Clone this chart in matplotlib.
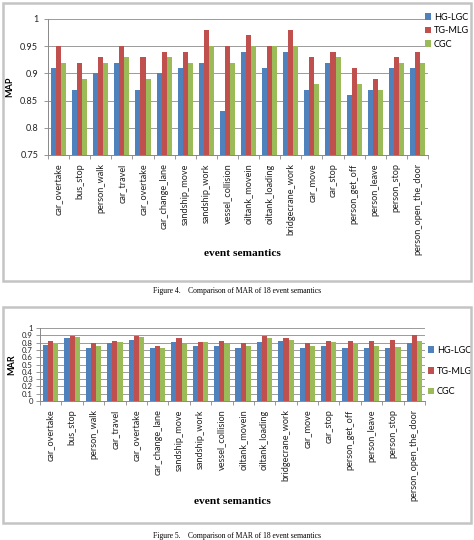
import numpy as np
import matplotlib
matplotlib.use("Agg")
import matplotlib.pyplot as plt
from matplotlib.patches import Rectangle

# data
events = ["car_overtake", "bus_stop", "person_walk", "car_travel", "car_overtake",
          "car_change_lane", "sandship_move", "sandship_work", "vessel_collision",
          "oiltank_movein", "oiltank_loading", "bridgecrane_work", "car_move",
          "car_stop", "person_get_off", "person_leave", "person_stop",
          "person_open_the_door"]
methods = ["HG-LGC", "TG-MLG", "CGC"]

map_hglgc = [0.91, 0.87, 0.90, 0.92, 0.87, 0.90, 0.91, 0.92, 0.83,
             0.94, 0.91, 0.94, 0.87, 0.92, 0.86, 0.87, 0.91, 0.91]
map_tgmlg = [0.95, 0.92, 0.93, 0.95, 0.93, 0.94, 0.94, 0.98, 0.95,
             0.97, 0.95, 0.98, 0.93, 0.94, 0.91, 0.89, 0.93, 0.94]
map_cgc = [0.92, 0.89, 0.92, 0.93, 0.89, 0.93, 0.92, 0.95, 0.92,
           0.95, 0.95, 0.95, 0.88, 0.93, 0.88, 0.87, 0.92, 0.92]

mar_hglgc = [0.77, 0.86, 0.725, 0.80, 0.84, 0.725, 0.81, 0.76, 0.75,
             0.73, 0.81, 0.825, 0.72, 0.75, 0.73, 0.72, 0.725, 0.79]
mar_tgmlg = [0.825, 0.895, 0.79, 0.825, 0.885, 0.76, 0.86, 0.815, 0.825,
             0.80, 0.885, 0.865, 0.79, 0.825, 0.825, 0.825, 0.835, 0.90]
mar_cgc = [0.80, 0.87, 0.75, 0.815, 0.875, 0.725, 0.785, 0.81, 0.775,
           0.75, 0.865, 0.835, 0.75, 0.815, 0.79, 0.75, 0.74, 0.825]

colors = ["#4F81BD", "#C0504D", "#9BBB59"]
W, H = 474, 540
SANS = "Lato"

fig = plt.figure(figsize=(W / 100, H / 100), dpi=100)
fig.patch.set_facecolor("white")


def px_axes(x0, y0, x1, y1):
    # pixel box (top-left origin) -> figure axes
    return fig.add_axes([x0 / W, 1 - y1 / H, (x1 - x0) / W, (y1 - y0) / H])


def frame(x0, y0, x1, y1):
    fig.patches.append(Rectangle((x0 / W, 1 - y1 / H), (x1 - x0) / W, (y1 - y0) / H,
                                 transform=fig.transFigure, fill=False,
                                 edgecolor="#c4c4c4", linewidth=1.8))


def bar_chart(ax, series, ylim, yticks, ytlabels, ylabel, yfs):
    x = np.arange(len(events))
    w = 0.24
    for i, vals in enumerate(series):
        ax.bar(x + (i - 1) * w, np.array(vals) - ylim[0], w, bottom=ylim[0],
               color=colors[i], label=methods[i], zorder=2)
    ax.set_xlim(-0.5, len(events) - 0.5)
    ax.set_ylim(*ylim)
    ax.set_yticks(yticks)
    ax.set_yticklabels(ytlabels, fontsize=yfs, color="#222222", family=SANS)
    ax.set_xticks(x)
    ax.set_xticklabels(events, rotation=90, fontsize=6.6, color="#222222", family=SANS)
    ax.tick_params(axis="x", length=0, pad=6)
    ax.tick_params(axis="y", length=3, width=0.6, color="#888888", pad=4)
    ax.set_xticks(np.arange(-0.5, len(events)), minor=True)
    ax.tick_params(axis="x", which="minor", length=3, width=0.6, color="#888888")
    ax.grid(axis="y", color="#9a9a9a", linewidth=0.7, zorder=0)
    for s in ["top", "right"]:
        ax.spines[s].set_visible(False)
    for s in ["left", "bottom"]:
        ax.spines[s].set_color("#888888")
        ax.spines[s].set_linewidth(0.7)
    ax.set_ylabel(ylabel, fontsize=6.5, fontweight="bold", labelpad=4, family=SANS)


leg_font = {"family": SANS, "size": 6.6}

# Figure 4 (MAP)
frame(3, 3, 471, 281)
ax1 = px_axes(48, 19, 428, 155)
bar_chart(ax1, [map_hglgc, map_tgmlg, map_cgc], (0.75, 1.0),
          [0.75, 0.8, 0.85, 0.9, 0.95, 1.0],
          ["0.75", "0.8", "0.85", "0.9", "0.95", "1"], "MAP", 6.6)
ax1.legend(loc="upper left", bbox_to_anchor=(421 / W, 1 - 9 / H),
           bbox_transform=fig.transFigure, frameon=False, prop=leg_font,
           handlelength=0.7, handleheight=0.7, handletextpad=0.3,
           labelspacing=0.5, borderaxespad=0)
fig.text(242 / W, 1 - 254 / H, "event semantics", ha="center", va="center",
         fontsize=8.2, fontweight="bold", family="Liberation Serif")
fig.text(237 / W, 1 - 291 / H, "Figure 4.    Comparison of MAR of 18 event semantics",
         ha="center", va="center", fontsize=5.5, family="Liberation Serif")

# Figure 5 (MAR)
frame(3, 307, 471, 523)
ax2 = px_axes(40, 328, 425, 401)
bar_chart(ax2, [mar_hglgc, mar_tgmlg, mar_cgc], (0.0, 1.0),
          np.arange(0, 1.01, 0.1),
          ["0", "0.1", "0.2", "0.3", "0.4", "0.5", "0.6", "0.7", "0.8", "0.9", "1"],
          "MAR", 5.6)
ax2.tick_params(axis="y", pad=2)
ax2.legend(loc="upper left", bbox_to_anchor=(424 / W, 1 - 342 / H),
           bbox_transform=fig.transFigure, frameon=False, prop=leg_font,
           handlelength=0.7, handleheight=0.7, handletextpad=0.3,
           labelspacing=1.3, borderaxespad=0)
fig.text(232 / W, 1 - 502 / H, "event semantics", ha="center", va="center",
         fontsize=8.2, fontweight="bold", family="Liberation Serif")
fig.text(237 / W, 1 - 536 / H, "Figure 5.    Comparison of MAR of 18 event semantics",
         ha="center", va="center", fontsize=5.5, family="Liberation Serif")

fig.savefig("out.png", dpi=100)
